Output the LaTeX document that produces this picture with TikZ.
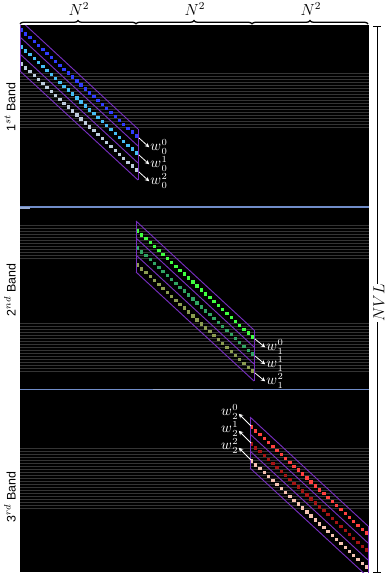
\documentclass[tikz,border=0pt]{standalone}
\usepackage{fontspec}
\newfontfamily\bandfont{Liberation Sans}
\usetikzlibrary{decorations.pathreplacing,arrows.meta}
\definecolor{purp}{RGB}{118,46,190}
\definecolor{sepblue}{RGB}{112,140,200}
\definecolor{seplight}{RGB}{150,170,210}
\definecolor{gline}{RGB}{52,52,52}
\definecolor{bOa}{RGB}{48,60,255}
\definecolor{bOb}{RGB}{70,190,245}
\definecolor{bOc}{RGB}{190,205,220}
\definecolor{bTa}{RGB}{64,255,64}
\definecolor{bTb}{RGB}{48,165,100}
\definecolor{bTc}{RGB}{140,156,82}
\definecolor{bHa}{RGB}{255,64,64}
\definecolor{bHb}{RGB}{165,20,20}
\definecolor{bHc}{RGB}{244,194,178}
\newcommand{\drawbandblk}[5]{%
  \foreach \k/\c in {0/#3,1/#4,2/#5}{%
    \foreach \i in {0,...,27}{%
      \fill[\c] ({#1-0.2+\i*4.26}, {#2+6.8+17*\k+0.9237*(1.5+\i*4.26)}) rectangle +(3.4,3.4);
    }
  }
  \foreach \k in {0,...,3}{%
    \draw[purpline] (#1, {#2+17*\k}) -- ({#1+118}, {#2+17*\k+109});
  }
  \draw[purpline] (#1,#2) -- (#1,{#2+51});
  \draw[purpline] ({#1+118},{#2+109}) -- ({#1+118},{#2+160});
}
\newcommand{\wlabel}[2]{$w$\hspace{0.3pt}{\fontsize{6.8}{6.3}\selectfont\begin{tabular}{@{}c@{}}$#2$\\$#1$\end{tabular}}}
\begin{document}
\begin{tikzpicture}[x=0.75pt,y=-0.75pt,
  purpline/.style={purp, line width=0.7pt},
  gridline/.style={gline, line width=0.45pt},
  sepline/.style={sepblue, line width=0.8pt},
  wlab/.style={text=white, inner sep=0pt, font=\fontsize{11}{12}\selectfont},
  warrow/.style={white, line width=0.6pt, shorten >=0.8pt, -{Stealth[length=3.2pt,width=3.2pt]}},
  bandlab/.style={rotate=90, inner sep=0pt, font=\bandfont\fontsize{9.3}{10}\selectfont},
  toplab/.style={anchor=base, inner sep=0pt, font=\fontsize{12}{13}\selectfont},
  bracestyle/.style={decorate, decoration={brace, amplitude=2.6pt}, line width=1pt},
  dimline/.style={black, line width=0.6pt}]
\useasboundingbox (0,0) rectangle (390,575);
\fill[black] (20,25) rectangle (369,572);
% grey horizontal lines
\foreach \y in {73,76,...,128} \draw[gridline] (20,\y) -- (369,\y);
\foreach \y in {225,228,...,258} \draw[gridline] (20,\y) -- (369,\y);
\foreach \y in {323,326,...,372} \draw[gridline] (20,\y) -- (369,\y);
\foreach \y in {448,451,...,509} \draw[gridline] (20,\y) -- (369,\y);
% band separators
\draw[sepline] (20,207) -- (369,207);
\draw[sepline] (20,389.5) -- (369,389.5);
\draw[seplight, line width=1.6pt] (20,208) -- (30,208);
\draw[seplight, line width=1.4pt] (153,389.5) -- (253,389.5);
% diagonal blocks
\begin{scope}
  \clip (20,25) rectangle (369,572);
  \drawbandblk{20}{20}{bOa}{bOb}{bOc}
  \drawbandblk{136}{221}{bTa}{bTb}{bTc}
  \drawbandblk{250}{417}{bHa}{bHb}{bHc}
\end{scope}
% band 1 labels
\coordinate (a00) at (139,138);
\coordinate (a01) at (139,155);
\coordinate (a02) at (139,172);
\node[wlab, anchor=west] (w00) at (150,148) {\wlabel{0}{0}};
\node[wlab, anchor=west] (w01) at (150,165) {\wlabel{0}{1}};
\node[wlab, anchor=west] (w02) at (150,182) {\wlabel{0}{2}};
\draw[warrow] (a00) -- (w00.west);
\draw[warrow] (a01) -- (w01.west);
\draw[warrow] (a02) -- (w02.west);
% band 2 labels
\coordinate (a10) at (255,339);
\coordinate (a11) at (255,356);
\coordinate (a12) at (255,373);
\node[wlab, anchor=west] (w10) at (266,348) {\wlabel{1}{0}};
\node[wlab, anchor=west] (w11) at (266,365) {\wlabel{1}{1}};
\node[wlab, anchor=west] (w12) at (266,382) {\wlabel{1}{2}};
\draw[warrow] (a10) -- (w10.west);
\draw[warrow] (a11) -- (w11.west);
\draw[warrow] (a12) -- (w12.west);
% band 3 labels
\coordinate (a20) at (251,426);
\coordinate (a21) at (251,443);
\coordinate (a22) at (251,460);
\node[wlab, anchor=east] (w20) at (238,413) {\wlabel{2}{0}};
\node[wlab, anchor=east] (w21) at (238,430) {\wlabel{2}{1}};
\node[wlab, anchor=east] (w22) at (238,447) {\wlabel{2}{2}};
\draw[warrow] (a20) -- (w20.east);
\draw[warrow] (a21) -- (w21.east);
\draw[warrow] (a22) -- (w22.east);
% top braces
\coordinate (t0) at (20,24);
\coordinate (t1) at (136,24);
\coordinate (t2) at (252,24);
\coordinate (t3) at (368,24);
\draw[bracestyle] (t0) -- (t1);
\draw[bracestyle] (t1) -- (t2);
\draw[bracestyle] (t2) -- (t3);
\node[toplab] (n1) at (79,15) {$N^2$};
\node[toplab] (n2) at (195,15) {$N^2$};
\node[toplab] (n3) at (311,15) {$N^2$};
% right dimension
\coordinate (r0) at (377,26.5);
\coordinate (r1) at (377,572);
\coordinate (g0) at (377,284);
\coordinate (g1) at (377,322);
\draw[dimline] (r0) -- (g0);
\draw[dimline] (g1) -- (r1);
\draw[dimline] (373,26.5) -- (381,26.5);
\draw[dimline] (373,572) -- (381,572);
\node[rotate=90, inner sep=0pt, font=\fontsize{12}{13}\selectfont] (nvl) at (379,303) {$NVL$};
% band labels
\node[bandlab] (l1) at (10,107) {1$^{st}$ Band};
\node[bandlab] (l2) at (10,290) {2$^{nd}$ Band};
\node[bandlab] (l3) at (10,497) {3$^{rd}$ Band};
\end{tikzpicture}
\end{document}
